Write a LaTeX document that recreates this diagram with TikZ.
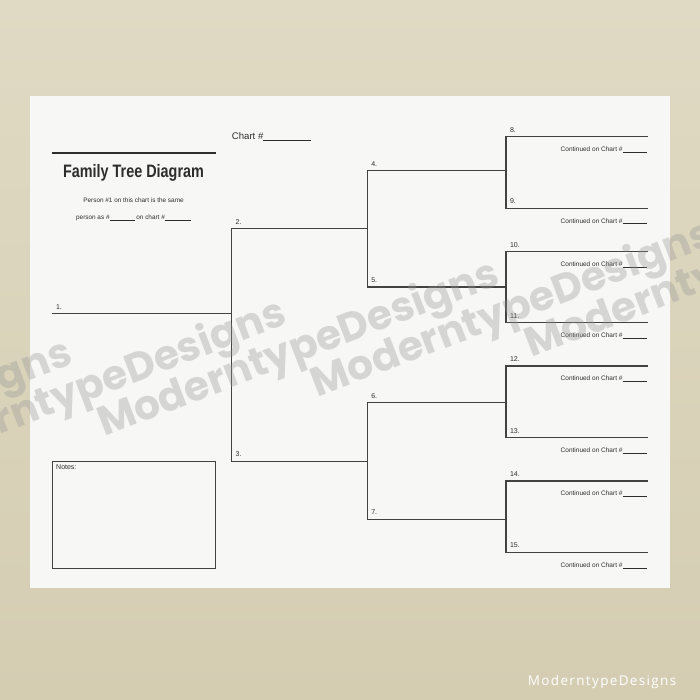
\documentclass[tikz,border=0pt]{standalone}
\usepackage{fontspec}
\usepackage{graphicx}
\setmainfont{Liberation Sans}
\newfontfamily\wmfont{Poppins}
\newfontfamily\brandfont[LetterSpace=10]{Open Sans}
\usepackage{tikz}
\definecolor{canvastop}{RGB}{224,218,196}
\definecolor{canvasbot}{RGB}{212,205,178}
\definecolor{paper}{RGB}{247,247,245}
\definecolor{ink}{RGB}{66,66,66}
\definecolor{textgray}{RGB}{45,45,45}
\definecolor{wmgray}{RGB}{150,150,150}
\def\blank#1{\rule[-0.9pt]{#1pt}{0.5pt}}
\tikzset{
  tree/.style={draw=ink,line width=1.4pt},
  num/.style={font=\fontsize{7}{8}\selectfont,text=textgray,inner sep=0pt,anchor=base west},
  cont/.style={font=\fontsize{6.5}{7}\selectfont,text=textgray,inner sep=0pt,anchor=base east},
  small/.style={font=\fontsize{6.4}{7}\selectfont,text=textgray,inner sep=0pt,anchor=base},
  wm/.style={font=\wmfont\bfseries\fontsize{41}{41}\selectfont,text=wmgray,opacity=.34,rotate=21,anchor=base west,inner sep=0pt}
}

\begin{document}
\begin{tikzpicture}[x=1pt,y=-1pt]
\useasboundingbox (0,0) rectangle (700,700);
\shade[top color=canvastop,bottom color=canvasbot] (0,0) rectangle (700,700);
\fill[paper] (30,96) rectangle (670,588);

% title block
\draw[draw=textgray,line width=2pt] (52,152.7) -- (215.5,152.7);
\node[inner sep=0pt,anchor=base,text=textgray,font=\bfseries\fontsize{18}{18}\selectfont] (title) at (133.5,177.5) {\scalebox{0.8}[1]{Family Tree Diagram}};
\node[small] (same1) at (133.5,203) {Person \#1 on this chart is the same};
\node[small] (same2) at (133.5,219.3) {person as \#\blank{25} on chart \#\blank{26}};
\node[inner sep=0pt,anchor=base west,text=textgray,font=\fontsize{9.6}{10}\selectfont] (chart) at (231.7,140) {Chart \#\blank{48}};

% people
\coordinate (p1) at (52,313.7);
\coordinate (p2) at (231.7,228.7);  \coordinate (p3) at (231.7,461.3);
\coordinate (p4) at (367.3,170.7);  \coordinate (p5) at (367.3,287);
\coordinate (p6) at (367.3,402.7);  \coordinate (p7) at (367.3,519.3);
\coordinate (p8) at (506,136.7);    \coordinate (p9) at (506,208.3);
\coordinate (p10) at (506,251.7);   \coordinate (p11) at (506,322.5);
\coordinate (p12) at (506,366);     \coordinate (p13) at (506,437.5);
\coordinate (p14) at (506,481);     \coordinate (p15) at (506,552.3);
\coordinate (rim) at (647.5,0);

\draw[tree] (p1) -- (p1 -| p2);
\foreach \a/\b/\c in {2/3/p4,4/5/p8,6/7/p8,8/9/rim,10/11/rim,12/13/rim,14/15/rim}
  \draw[tree] (p\a -| \c) -- (p\a) -- (p\b) -- (p\b -| \c);
\foreach \n in {1,...,15}
  \node[num,xshift=3.8pt,yshift=4.4pt] (n\n) at (p\n) {\n.};
\foreach \n in {8,...,15}
  \node[cont,yshift=-14.8pt] (c\n) at (p\n -| rim) {Continued on Chart \#\blank{24.8}};

% notes
\draw[tree] (52.3,461.3) rectangle (215.3,568.3);
\node[num] (notes) at (56,469.8) {Notes:};

% watermark
\foreach \k [count=\i] in {-2,...,2}
  \node[wm] (wm\i) at (104+213.5*\k,437-39.5*\k) {ModerntypeDesigns};
\node[inner sep=0pt,anchor=base west,text=white,font=\brandfont\fontsize{13.5}{14}\selectfont] (brand) at (527.7,685) {ModerntypeDesigns};
\end{tikzpicture}
\end{document}
